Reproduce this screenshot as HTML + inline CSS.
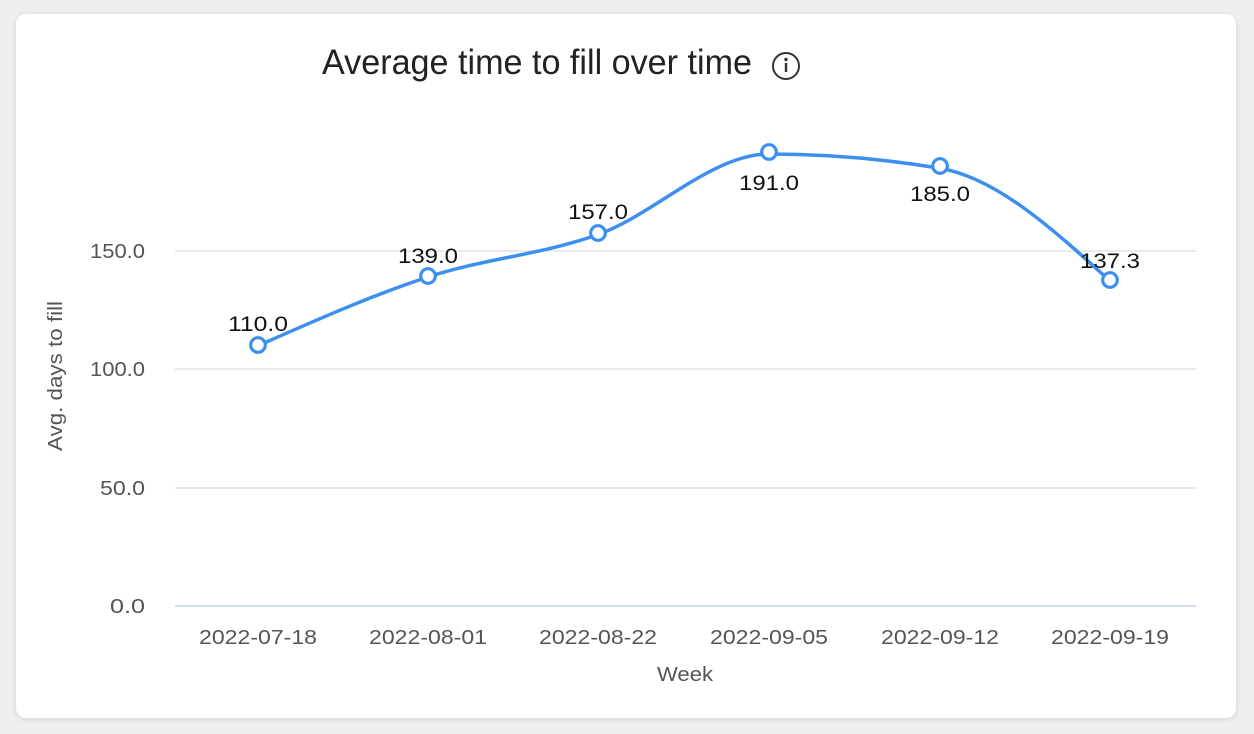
<!DOCTYPE html>
<html><head><style>
html,body{margin:0;padding:0;background:#efefef;}
.card{position:absolute;left:16px;top:14px;width:1220px;height:704px;background:#fff;border-radius:10px;box-shadow:0 1px 6px rgba(0,0,0,0.12);}
svg{position:absolute;left:0;top:0;}
text{font-family:"Liberation Sans",sans-serif;}
</style></head><body>
<div class="card"></div>
<svg width="1254" height="734" viewBox="0 0 1254 734">
<text x="322" y="74" font-size="35" fill="#222" textLength="430" lengthAdjust="spacingAndGlyphs">Average time to fill over time</text>
<circle cx="786" cy="66" r="13" fill="none" stroke="#333" stroke-width="2"/>
<circle cx="786" cy="59.5" r="1.7" fill="#333"/>
<rect x="784.8" y="63" width="2.4" height="9" fill="#333"/>
<g stroke="#e3e3e3" stroke-width="1.5">
<line x1="175" y1="251" x2="1196" y2="251"/>
<line x1="175" y1="369" x2="1196" y2="369"/>
<line x1="175" y1="488" x2="1196" y2="488"/>
</g>
<line x1="175" y1="606" x2="1196" y2="606" stroke="#c5d2e4" stroke-width="1.5"/>
<g font-size="20" fill="#555" text-anchor="end">
<text x="145" y="258" textLength="55" lengthAdjust="spacingAndGlyphs">150.0</text>
<text x="145" y="376" textLength="55" lengthAdjust="spacingAndGlyphs">100.0</text>
<text x="145" y="495" textLength="45" lengthAdjust="spacingAndGlyphs">50.0</text>
<text x="145" y="613" textLength="35" lengthAdjust="spacingAndGlyphs">0.0</text>
</g>
<text transform="translate(62,376) rotate(-90)" font-size="20" fill="#555" text-anchor="middle" textLength="150" lengthAdjust="spacingAndGlyphs">Avg. days to fill</text>
<g font-size="20" fill="#555" text-anchor="middle">
<text x="258" y="644" textLength="118" lengthAdjust="spacingAndGlyphs">2022-07-18</text>
<text x="428" y="644" textLength="118" lengthAdjust="spacingAndGlyphs">2022-08-01</text>
<text x="598" y="644" textLength="118" lengthAdjust="spacingAndGlyphs">2022-08-22</text>
<text x="769" y="644" textLength="118" lengthAdjust="spacingAndGlyphs">2022-09-05</text>
<text x="940" y="644" textLength="118" lengthAdjust="spacingAndGlyphs">2022-09-12</text>
<text x="1110" y="644" textLength="118" lengthAdjust="spacingAndGlyphs">2022-09-19</text>
<text x="685" y="681" textLength="56" lengthAdjust="spacingAndGlyphs">Week</text>
</g>
<path d="M258,345.7 C314.8,320.7 371.2,295.6 428,277 C484.8,258.4 541.2,254.9 598.4,234.4 C655.2,213.9 712,154 769,154 C825.8,154 882.6,158.8 939.6,168.2 C996.4,177.6 1053.2,229.3 1110,281" fill="none" stroke="#3d8fef" stroke-width="3.5"/>
<g fill="#fff" stroke="#3d8fef" stroke-width="3.2">
<circle cx="258" cy="345" r="7.3"/>
<circle cx="428" cy="276" r="7.3"/>
<circle cx="598" cy="233" r="7.3"/>
<circle cx="769" cy="152" r="7.3"/>
<circle cx="940" cy="166" r="7.3"/>
<circle cx="1110" cy="280" r="7.3"/>
</g>
<g font-size="21" fill="#111" text-anchor="middle">
<text x="258" y="331" textLength="60" lengthAdjust="spacingAndGlyphs">110.0</text>
<text x="428" y="263" textLength="60" lengthAdjust="spacingAndGlyphs">139.0</text>
<text x="598" y="219" textLength="60" lengthAdjust="spacingAndGlyphs">157.0</text>
<text x="769" y="190" textLength="60" lengthAdjust="spacingAndGlyphs">191.0</text>
<text x="940" y="201" textLength="60" lengthAdjust="spacingAndGlyphs">185.0</text>
<text x="1110" y="268" textLength="60" lengthAdjust="spacingAndGlyphs">137.3</text>
</g>
</svg>
</body></html>
